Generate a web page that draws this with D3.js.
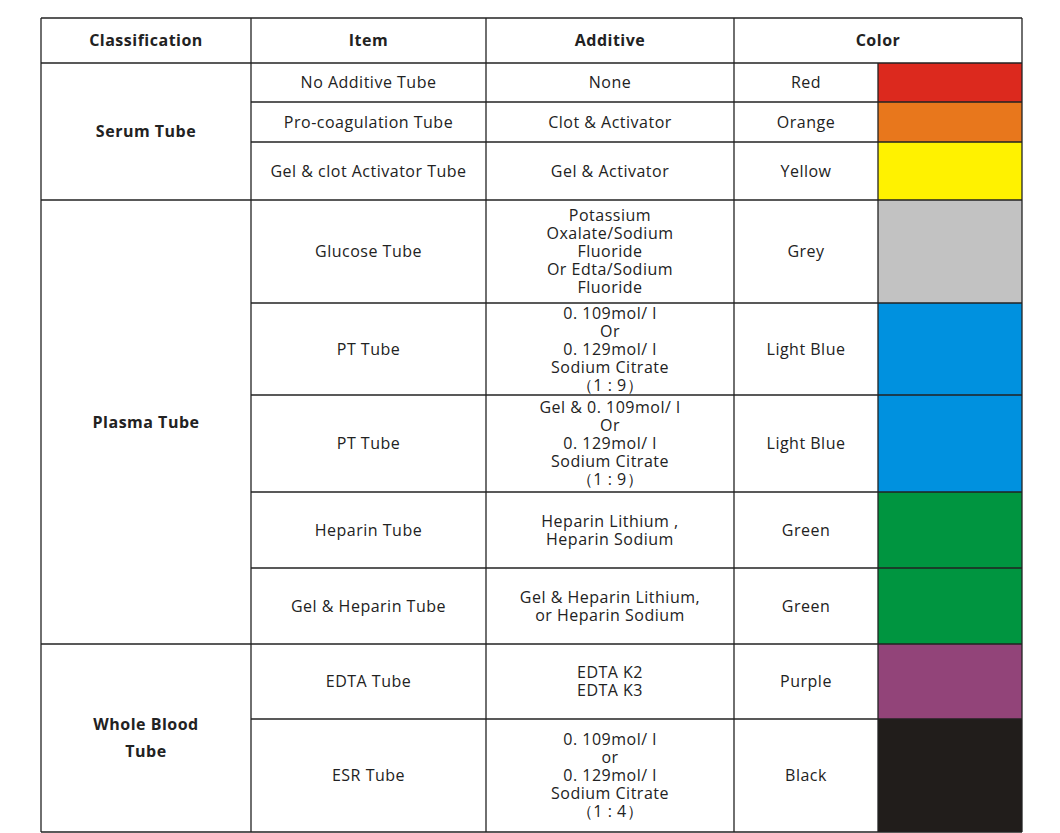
<!DOCTYPE html>
<html><head><meta charset="utf-8">
<script src="https://cdn.jsdelivr.net/npm/d3@7"></script>
<style>body{margin:0;background:#fff}text{font-family:"Open Sans",sans-serif;fill:#222}</style>
</head><body><div id="chart"></div>
<script>
const headers = ["Classification", "Item", "Additive", "Color"];
const groups = ["Serum Tube", "Plasma Tube", "Whole Blood\nTube"];
const groupSpans = [3, 5, 2];
const items = ["No Additive Tube", "Pro-coagulation Tube", "Gel & clot Activator Tube",
  "Glucose Tube", "PT Tube", "PT Tube", "Heparin  Tube", "Gel & Heparin  Tube", "EDTA Tube", "ESR Tube"];
const additives = ["None", "Clot & Activator", "Gel & Activator",
  "Potassium\nOxalate/Sodium\nFluoride\nOr Edta/Sodium\nFluoride",
  "0. 109mol/ l\nOr\n0. 129mol/ l\nSodium  Citrate\n（1 : 9）",
  "Gel & 0. 109mol/ l\nOr\n0. 129mol/ l\nSodium  Citrate\n（1 : 9）",
  "Heparin Lithium ,\nHeparin Sodium",
  "Gel &  Heparin Lithium,\nor Heparin Sodium",
  "EDTA  K2\nEDTA  K3",
  "0. 109mol/ l\nor\n0. 129mol/ l\nSodium  Citrate\n（1 : 4）"];
const colorNames = ["Red", "Orange", "Yellow", "Grey", "Light  Blue", "Light  Blue", "Green", "Green", "Purple", "Black"];
const swatches = ["#dc291e", "#e8771c", "#fff200", "#c2c2c2", "#0091df", "#0091df", "#009540", "#009540", "#924479", "#211d1b"];

// layout
const colEdges = [41, 251, 486, 734, 878, 1022];
const rowEdges = [18, 63, 102, 142, 200, 303, 395, 492, 568, 644, 719, 832];

const svg = d3.select("#chart").append("svg").attr("width", 1060).attr("height", 833);

function multiText(g, str, x, y, bold) {
  const lines = str.split("\n"), lh = bold ? 27 : 18;
  const t = g.append("text").attr("x", x).attr("text-anchor", "middle")
    .attr("font-size", 16).attr("font-weight", bold ? 700 : 400)
    .style("letter-spacing", "0.5px");
  lines.forEach((l, i) => t.append("tspan").attr("x", x)
    .attr("y", y + (i - (lines.length - 1) / 2) * lh).attr("dy", "0.35em").text(l));
}

const cx = i => (colEdges[i] + colEdges[i + 1]) / 2;

// swatches
svg.selectAll("rect.sw").data(swatches).join("rect")
  .attr("x", colEdges[4]).attr("width", colEdges[5] - colEdges[4])
  .attr("y", (d, i) => rowEdges[i + 1]).attr("height", (d, i) => rowEdges[i + 2] - rowEdges[i + 1])
  .attr("fill", d => d);

// header
headers.forEach((h, i) => {
  const x = i < 3 ? cx(i) : (colEdges[3] + colEdges[5]) / 2;
  multiText(svg, h, x, (rowEdges[0] + rowEdges[1]) / 2, true);
});

// rows
items.forEach((it, i) => {
  const y = (rowEdges[i + 1] + rowEdges[i + 2]) / 2;
  multiText(svg, it, cx(1), y, false);
  multiText(svg, additives[i], cx(2), y, false);
  multiText(svg, colorNames[i], cx(3), y, false);
});

// groups
let r = 0;
const lines = svg.append("g").attr("stroke", "#222").attr("stroke-width", 1.3);
groups.forEach((g, i) => {
  const y0 = rowEdges[r + 1], y1 = rowEdges[r + 1 + groupSpans[i]];
  multiText(svg, g, cx(0), (y0 + y1) / 2, true);
  lines.append("line").attr("x1", colEdges[0]).attr("x2", colEdges[1]).attr("y1", y1).attr("y2", y1);
  r += groupSpans[i];
});

// grid lines
lines.append("line").attr("x1", colEdges[0]).attr("x2", colEdges[5]).attr("y1", rowEdges[0]).attr("y2", rowEdges[0]);
rowEdges.slice(1).forEach(y => lines.append("line").attr("x1", colEdges[1]).attr("x2", colEdges[5]).attr("y1", y).attr("y2", y));
lines.append("line").attr("x1", colEdges[0]).attr("x2", colEdges[1]).attr("y1", rowEdges[1]).attr("y2", rowEdges[1]);
colEdges.forEach((x, i) => {
  if (i === 4) lines.append("line").attr("x1", x).attr("x2", x).attr("y1", rowEdges[1]).attr("y2", rowEdges[rowEdges.length - 1]);
  else lines.append("line").attr("x1", x).attr("x2", x).attr("y1", rowEdges[0]).attr("y2", rowEdges[rowEdges.length - 1]);
});
</script></body></html>
